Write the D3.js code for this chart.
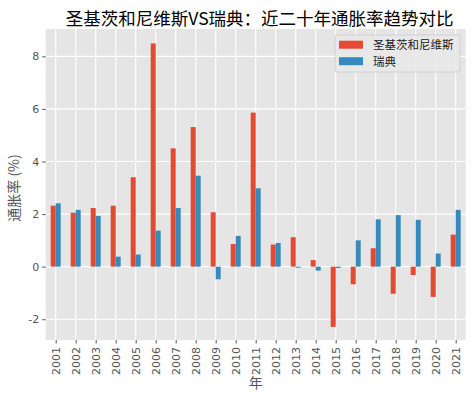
<!DOCTYPE html>
<html>
<head>
<meta charset="utf-8">
<script src="https://cdn.jsdelivr.net/npm/d3@7"></script>
<style>
  body { margin: 0; background: #fff; }
  text { font-family: "Noto Sans CJK SC", "DejaVu Sans", sans-serif; }
</style>
</head>
<body>
<div id="chart"></div>
<script>
// data
var years = ["2001","2002","2003","2004","2005","2006","2007","2008","2009","2010","2011",
             "2012","2013","2014","2015","2016","2017","2018","2019","2020","2021"]
var kittsNevis = [2.32, 2.05, 2.23, 2.32, 3.4, 8.49, 4.5, 5.31, 2.07, 0.86, 5.86,
                  0.84, 1.12, 0.25, -2.29, -0.67, 0.70, -1.03, -0.32, -1.15, 1.22]
var sweden = [2.41, 2.16, 1.93, 0.38, 0.46, 1.37, 2.23, 3.46, -0.48, 1.17, 2.98,
              0.90, -0.04, -0.15, -0.05, 1.0, 1.80, 1.96, 1.78, 0.50, 2.16]
var seriesNames = ["圣基茨和尼维斯", "瑞典"]
var yTicks = [-2, 0, 2, 4, 6, 8]

var colors = ["#E24A33", "#348ABD"]

var W = 474, H = 399
var margin = { top: 29, right: 8.3, bottom: 59, left: 45.7 }
var width = W - margin.left - margin.right,
    height = H - margin.top - margin.bottom

var svg = d3.select("#chart").append("svg")
    .attr("width", W)
    .attr("height", H)

var g = svg.append("g")
    .attr("transform", "translate(" + margin.left + "," + margin.top + ")")

// pandas-style positions: index -0.5 .. n-0.5
var xScale = d3.scaleLinear()
    .domain([-0.5, years.length - 0.5])
    .range([0, width])

var yScale = d3.scaleLinear()
    .domain([-2.79, 9.04])
    .range([height, 0])

g.append("rect")
    .attr("width", width)
    .attr("height", height)
    .attr("fill", "#E5E5E5")

// grid
g.selectAll(".vgrid").data(years).enter().append("line")
    .attr("x1", function(d, i) { return xScale(i) })
    .attr("x2", function(d, i) { return xScale(i) })
    .attr("y1", 0).attr("y2", height)
    .attr("stroke", "#fff").attr("stroke-width", 1.1)

g.selectAll(".hgrid").data(yTicks).enter().append("line")
    .attr("x1", 0).attr("x2", width)
    .attr("y1", function(d) { return yScale(d) })
    .attr("y2", function(d) { return yScale(d) })
    .attr("stroke", "#fff").attr("stroke-width", 1.1)

// bars
var barW = 0.25
var series = [kittsNevis, sweden]
series.forEach(function(vals, s) {
  g.selectAll(".bar" + s).data(vals).enter().append("rect")
    .attr("x", function(d, i) { return xScale(i - barW + s * barW) })
    .attr("width", xScale(barW) - xScale(0))
    .attr("y", function(d) { return yScale(Math.max(0, d)) })
    .attr("height", function(d) { return Math.abs(yScale(d) - yScale(0)) })
    .attr("fill", colors[s])
})

// axes
var xAxis = d3.axisBottom(xScale)
    .tickValues(d3.range(years.length))
    .tickFormat(function(i) { return years[i] })
    .tickSize(3.5).tickPadding(3)

var xg = g.append("g")
    .attr("transform", "translate(0," + height + ")")
    .call(xAxis)
xg.select(".domain").remove()
xg.selectAll(".tick line").attr("stroke", "#555")
xg.selectAll(".tick text")
    .attr("fill", "#555")
    .style("font-size", "11px")
    .style("font-family", "DejaVu Sans, sans-serif")
    .attr("transform", "rotate(-90)")
    .attr("text-anchor", "end")
    .attr("x", -7).attr("y", 0).attr("dy", "0.35em")

var yAxis = d3.axisLeft(yScale)
    .tickValues(yTicks)
    .tickFormat(function(d) { return d < 0 ? "-" + Math.abs(d) : d })
    .tickSize(3.5).tickPadding(3)

var yg = g.append("g").call(yAxis)
yg.select(".domain").remove()
yg.selectAll(".tick line").attr("stroke", "#555")
yg.selectAll(".tick text")
    .attr("fill", "#555")
    .style("font-size", "11px")
    .style("font-family", "DejaVu Sans, sans-serif")

// title & labels
svg.append("text")
    .attr("x", margin.left + width / 2 + 4)
    .attr("y", 25)
    .attr("text-anchor", "middle")
    .style("font-size", "17.5px")
    .attr("fill", "#000")
    .text("圣基茨和尼维斯VS瑞典：近二十年通胀率趋势对比")

svg.append("text")
    .attr("x", margin.left + width / 2)
    .attr("y", 388)
    .attr("text-anchor", "middle")
    .style("font-size", "14px")
    .attr("fill", "#555")
    .text("年")

svg.append("text")
    .attr("transform", "translate(19," + (margin.top + 159) + ") rotate(-90)")
    .attr("text-anchor", "middle")
    .style("font-size", "14px")
    .attr("fill", "#555")
    .text("通胀率 (%)")

// legend
var lg = svg.append("g").attr("transform", "translate(335,35)")
lg.append("rect")
    .attr("width", 125).attr("height", 37).attr("rx", 2)
    .attr("fill", "#E8E8E8").attr("fill-opacity", 0.9)
    .attr("stroke", "#CCCCCC").attr("stroke-width", 0.8)
seriesNames.forEach(function(name, i) {
  lg.append("rect")
    .attr("x", 4).attr("y", 5.7 + i * 16.5)
    .attr("width", 24).attr("height", 8)
    .attr("fill", colors[i])
  lg.append("text")
    .attr("x", 38).attr("y", 10 + i * 16.5).attr("dy", "0.35em")
    .style("font-size", "11.5px")
    .attr("fill", "#222")
    .text(name)
})
</script>
</body>
</html>
